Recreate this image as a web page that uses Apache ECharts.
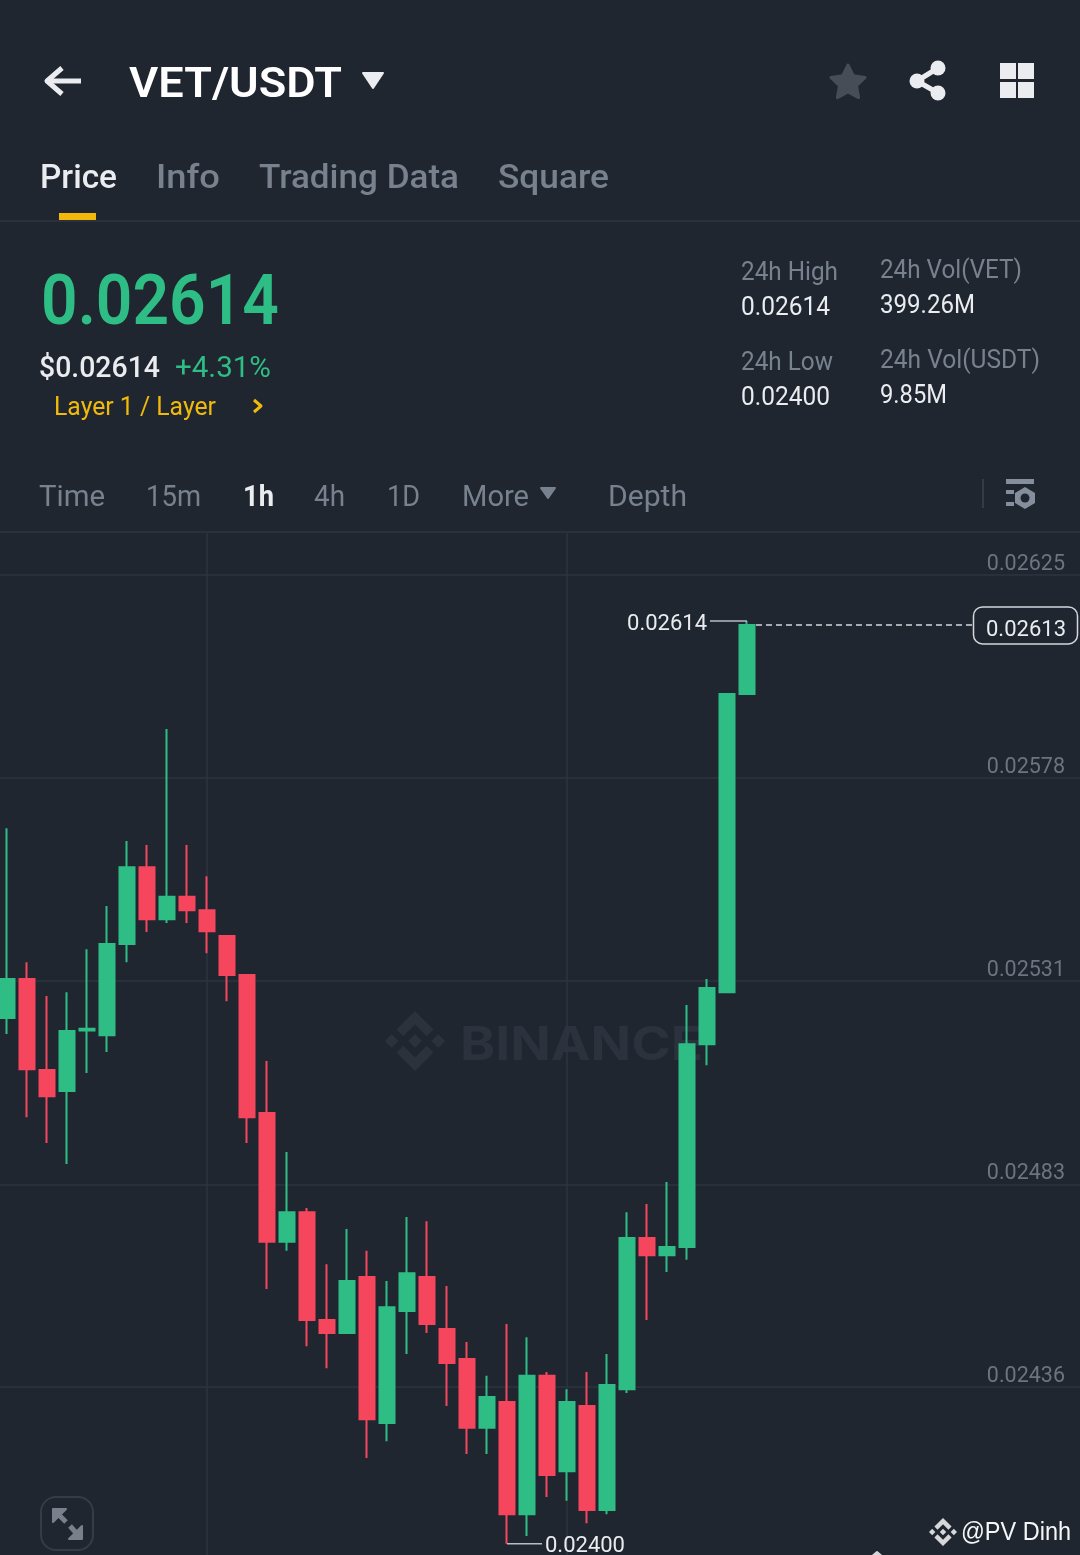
<!DOCTYPE html>
<html>
<head>
<meta charset="utf-8">
<title>VET/USDT</title>
<script src="https://cdn.jsdelivr.net/npm/echarts@6/dist/echarts.min.js"></script>
<style>
  html, body { margin: 0; padding: 0; background: #1f2630; }
  #main { width: 1080px; height: 1555px; }
</style>
</head>
<body>
<div id="main"></div>
<script>
// hourly candles
var opens  = [0.025219,0.025310,0.025098,0.025049,0.025190,0.025179,0.025391,0.025570,0.025449,0.025501,0.025470,0.025410,0.025319,0.024998,0.024698,0.024767,0.024516,0.024486,0.024616,0.024276,0.024537,0.024616,0.024495,0.024425,0.024265,0.024325,0.024064,0.024386,0.024164,0.024316,0.024074,0.024355,0.024707,0.024667,0.024686,0.025158,0.025279,0.025973];
var closes = [0.025310,0.025100,0.025037,0.025189,0.025194,0.025391,0.025570,0.025449,0.025501,0.025470,0.025421,0.025319,0.024988,0.024698,0.024767,0.024516,0.024486,0.024607,0.024285,0.024546,0.024625,0.024507,0.024416,0.024265,0.024337,0.024064,0.024386,0.024155,0.024325,0.024074,0.024365,0.024707,0.024667,0.024686,0.025158,0.025289,0.025973,0.026134];
var lows   = [0.025182,0.024988,0.024928,0.024879,0.025091,0.025140,0.025349,0.025419,0.025440,0.025440,0.025370,0.025258,0.024928,0.024588,0.024677,0.024455,0.024404,0.024486,0.024195,0.024234,0.024437,0.024486,0.024316,0.024204,0.024204,0.023995,0.024013,0.024104,0.024095,0.024043,0.024064,0.024346,0.024516,0.024628,0.024656,0.025109,0.025279,0.025973];
var highs  = [0.025661,0.025349,0.025270,0.025279,0.025379,0.025480,0.025631,0.025622,0.025892,0.025622,0.025549,0.025410,0.025319,0.025119,0.024907,0.024777,0.024646,0.024728,0.024677,0.024607,0.024756,0.024746,0.024595,0.024465,0.024386,0.024507,0.024476,0.024395,0.024355,0.024395,0.024437,0.024767,0.024786,0.024837,0.025249,0.025310,0.025973,0.026143];

// price axis, labels show these rounded to 5 places
var priceTicks = [0.02625, 0.025778, 0.0253052, 0.024832, 0.02436];
var priceMin = 0.023969;
var priceMax = 0.026348;

// hours on the time axis, the last ones stay empty
var slots = [];
for (var i = 0; i < 55; i++) slots.push('h' + i);
var timeLines = ['h10', 'h28'];

// 24h high and low flags, last price
var flagSlots  = [37, 25];
var flagValues = [0.026143, 0.023995];
var flagTexts  = ['0.02614', '0.02400'];
var lastSlot = 37;
var lastPrice = 0.026134;
var lastText = '0.02613';

var GREEN = '#2ebd85', RED = '#f6465d', YELLOW = '#f0b90b', BG = '#1f2630';
var WHITE = '#eaecef', GREY = '#78828f', LINE = '#2d3440';
var FONT = 'Roboto';

var measure = document.createElement('canvas').getContext('2d');

// text from left x to right x, centred on cy
function label(str, x0, x1, cy, size, color, weight, family, z) {
    var font = (weight || 400) + ' ' + size + 'px ' + (family || FONT);
    measure.font = font;
    return {
        type: 'text', x: x0, y: cy + size * 0.1, z: z || 5, silent: true,
        scaleX: (x1 - x0) / measure.measureText(str).width,
        style: { text: str, x: 0, y: 0, fill: color, font: font, textAlign: 'left', textVerticalAlign: 'middle' }
    };
}
function tri(pts, color) {
    return { type: 'polygon', z: 5, silent: true, shape: { points: pts },
        style: { fill: color, stroke: color, lineWidth: 2, lineJoin: 'round' } };
}
function stroke(pts, color, w) {
    return { type: 'polyline', z: 5, silent: true, shape: { points: pts },
        style: { stroke: color, lineWidth: w, fill: null, lineJoin: 'round', lineCap: 'butt' } };
}
function bar(x, y, w, h, color, r) {
    return { type: 'rect', z: 5, silent: true, shape: { x: x, y: y, width: w, height: h, r: r || 0 }, style: { fill: color } };
}
function disc(x, y, r, color) {
    return { type: 'circle', z: 5, silent: true, shape: { cx: x, cy: y, r: r }, style: { fill: color } };
}
var LOGO = [
    [[38.73,53.2],[63.32,28.62],[87.92,53.22],[102.22,38.91],[63.32,0],[24.42,38.9]],
    [[0,63.31],[14.3,49],[28.61,63.31],[14.3,77.61]],
    [[38.73,73.41],[63.32,98],[87.92,73.4],[102.23,87.69],[63.32,126.61],[24.42,87.71]],
    [[98,63.31],[112.3,49],[126.61,63.31],[112.3,77.61]],
    [[77.83,63.3],[63.32,48.78],[48.82,63.28],[63.32,77.8]]
];
function logo(cx, cy, r, color, z) {
    var k = r / 63.3;
    return { type: 'group', x: cx - r, y: cy - r, scaleX: k, scaleY: k, z: z, silent: true,
        children: LOGO.map(function (pts) {
            return { type: 'polygon', z: z, silent: true, shape: { points: pts }, style: { fill: color } };
        }) };
}
function star(cx, cy, r) {
    var pts = [];
    for (var k = 0; k < 10; k++) {
        var a = -Math.PI / 2 + k * Math.PI / 5, rr = k % 2 ? r * 0.5 : r;
        pts.push([cx + rr * Math.cos(a), cy + rr * Math.sin(a)]);
    }
    return { type: 'polygon', z: 5, silent: true, shape: { points: pts },
        style: { fill: '#474d57', stroke: '#474d57', lineWidth: 3, lineJoin: 'round' } };
}

var chrome = [
    // top bar
    stroke([[48, 81], [81, 81]], WHITE, 5),
    stroke([[62, 68], [47, 81], [62, 94]], WHITE, 5),
    label('VET/USDT', 129, 342, 82, 42, '#ffffff', 600),
    tri([[363, 73], [383, 73], [373, 88]], WHITE),
    star(848, 83, 18),
    stroke([[938, 68], [917, 81], [938, 93]], WHITE, 5),
    disc(917, 81, 7.5, WHITE), disc(938, 68, 7.5, WHITE), disc(938, 93, 7.5, WHITE),
    bar(1000, 63, 16, 16, WHITE), bar(1018, 63, 16, 16, WHITE),
    bar(1000, 82, 16, 16, WHITE), bar(1018, 82, 16, 16, WHITE),
    // tabs
    label('Price', 40, 117, 176, 33, WHITE, 500),
    label('Info', 156, 220, 176, 33, GREY, 500),
    label('Trading Data', 259, 459, 176, 33, GREY, 500),
    label('Square', 498, 609, 176, 33, GREY, 500),
    bar(59, 213, 37, 7, YELLOW),
    bar(0, 220, 1080, 2, '#2a313c'),
    // price block
    label('0.02614', 41, 279, 299, 70, GREEN, 600),
    label('$0.02614', 39, 160, 366, 30, WHITE, 500),
    label('+4.31%', 175, 271, 366, 30, GREEN, 400),
    label('Layer 1 / Layer', 54, 216, 406, 25, YELLOW, 400),
    stroke([[254, 400], [261, 406], [254, 412]], YELLOW, 3),
    // 24h stats
    label('24h High', 741, 838, 271, 26, GREY),
    label('0.02614', 741, 830, 306, 26, WHITE),
    label('24h Vol(VET)', 880, 1022, 269, 26, GREY),
    label('399.26M', 880, 975, 304, 26, WHITE),
    label('24h Low', 741, 833, 361, 26, GREY),
    label('0.02400', 741, 830, 396, 26, WHITE),
    label('24h Vol(USDT)', 880, 1040, 359, 26, GREY),
    label('9.85M', 880, 947, 394, 26, WHITE),
    // interval row
    label('Time', 39, 105, 495, 30, GREY),
    label('15m', 146, 201, 495, 30, GREY),
    label('1h', 243, 274, 495, 30, WHITE, 700),
    label('4h', 314, 345, 495, 30, GREY),
    label('1D', 387, 420, 495, 30, GREY),
    label('More', 462, 529, 495, 30, GREY),
    tri([[541, 488], [555, 488], [548, 498]], GREY),
    label('Depth', 608, 687, 495, 30, GREY),
    bar(982, 479, 2, 29, '#343b46'),
    bar(1006, 479, 28, 5, '#848e9c'),
    bar(1006, 490, 8, 4, '#848e9c'), bar(1006, 502, 8, 4, '#848e9c'),
    { type: 'polygon', z: 5, silent: true,
        shape: { points: [[1025, 487], [1035, 493], [1035, 503], [1025, 509], [1015, 503], [1015, 493]] },
        style: { fill: '#848e9c' } },
    disc(1025, 498, 4.5, BG),
    bar(0, 531, 1080, 2, '#2a313c'),
    // expand button
    { type: 'rect', z: 5, silent: true, shape: { x: 41, y: 1497, width: 52, height: 53, r: 15 },
        style: { fill: null, stroke: '#353c48', lineWidth: 2 } },
    tri([[53, 1509], [66, 1509], [53, 1522]], '#78808c'),
    stroke([[57, 1513], [66, 1522]], '#78808c', 5),
    tri([[82, 1539], [69, 1539], [82, 1526]], '#78808c'),
    stroke([[78, 1535], [70, 1526]], '#78808c', 5),
    // watermarks
    logo(415, 1041, 30, '#2b323d', 1),
    label('BINANCE', 460, 703, 1041, 47, '#2b323d', 700, 'Inter', 1),
    logo(943, 1532, 14, '#d5d7da', 5),
    label('@PV Dinh', 961, 1071, 1531, 25, '#f5f6f7', 400, 'Liberation Sans'),
    tri([[877, 1552], [884, 1558], [870, 1558]], '#d5d7da')
];

var candleData = opens.map(function (o, i) { return [o, closes[i], lows[i], highs[i]]; });

function drawFlag(params, api) {
    var p = api.coord([api.value(0), api.value(1)]);
    var toLeft = params.dataIndex === 0;
    var x1 = toLeft ? p[0] - 37 : p[0] + 35;
    var text = flagTexts[params.dataIndex];
    return { type: 'group', children: [
        { type: 'line', shape: { x1: p[0], y1: p[1], x2: x1, y2: p[1] }, style: { stroke: '#b7bdc6', lineWidth: 1.5 } },
        { type: 'text', x: toLeft ? x1 - 3 : x1 + 3, y: p[1] + 3,
          style: { text: text, fill: WHITE, font: '22px ' + FONT, textAlign: toLeft ? 'right' : 'left', textVerticalAlign: 'middle' } }
    ] };
}
function drawLast(params, api) {
    var p = api.coord([api.value(0), api.value(1)]);
    return { type: 'group', children: [
        { type: 'line', shape: { x1: p[0] + 9, y1: p[1], x2: 972, y2: p[1] },
          style: { stroke: '#d5d7da', lineWidth: 1.5, lineDash: [6, 4] } },
        { type: 'rect', shape: { x: 973.5, y: p[1] - 18, width: 104, height: 37, r: 9 },
          style: { fill: BG, stroke: '#d5d7da', lineWidth: 1.5 } },
        { type: 'text', x: 1026, y: p[1] + 6,
          style: { text: lastText, fill: WHITE, font: '22px ' + FONT, textAlign: 'center', textVerticalAlign: 'middle' } }
    ] };
}

var myChart = echarts.init(document.getElementById('main'), null, { width: 1080, height: 1555 });
var option = {
    animation: false,
    backgroundColor: BG,
    grid: { left: -3, right: -17, top: 533, bottom: 0, outerBoundsMode: 'none' },
    xAxis: {
        type: 'category',
        data: slots,
        axisLine: { show: false },
        axisTick: { show: false },
        axisLabel: { show: false },
        splitLine: { show: false }
    },
    yAxis: {
        type: 'value',
        position: 'right',
        min: priceMin,
        max: priceMax,
        axisLine: { show: false },
        axisTick: { show: false, customValues: priceTicks },
        axisLabel: {
            inside: true,
            customValues: priceTicks,
            margin: 32,
            color: '#6b7480',
            fontFamily: FONT,
            fontSize: 21.5,
            verticalAlign: 'bottom',
            lineHeight: 21,
            formatter: function (v) { return v.toFixed(5); }
        },
        splitLine: { show: true, lineStyle: { color: LINE, width: 1.5 } }
    },
    graphic: { elements: chrome },
    series: [
        {
            type: 'candlestick',
            data: candleData,
            barWidth: 16,
            itemStyle: { color: GREEN, color0: RED, borderColor: GREEN, borderColor0: RED, borderWidth: 2 },
            markLine: {
                silent: true,
                symbol: 'none',
                label: { show: false },
                lineStyle: { color: LINE, width: 1.5, type: 'solid' },
                data: timeLines.map(function (t) { return { xAxis: t }; }),
                z: 1
            }
        },
        {
            type: 'custom',
            renderItem: drawFlag,
            encode: { x: 0, y: 1 },
            clip: false,
            silent: true,
            z: 6,
            data: flagSlots.map(function (s, i) { return [s, flagValues[i]]; })
        },
        {
            type: 'custom',
            renderItem: drawLast,
            encode: { x: 0, y: 1 },
            clip: false,
            silent: true,
            z: 6,
            data: [[lastSlot, lastPrice]]
        }
    ]
};
myChart.setOption(option);
</script>
</body>
</html>
